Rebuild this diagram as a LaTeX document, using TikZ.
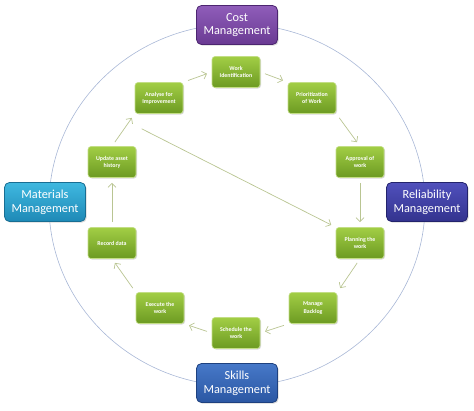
\documentclass[tikz,border=0pt]{standalone}
\usepackage{fontspec}
\setmainfont{Carlito}
\usepackage{xcolor}
\usepackage{tikz}
\usetikzlibrary{arrows.meta,positioning,calc,shadows}

\definecolor{costtop}{HTML}{8F5DBA}
\definecolor{costbot}{HTML}{6A3A92}
\definecolor{costedge}{HTML}{4C2570}
\definecolor{mattop}{HTML}{3FB8E0}
\definecolor{matbot}{HTML}{1E89B6}
\definecolor{matedge}{HTML}{186E93}
\definecolor{reltop}{HTML}{5050BC}
\definecolor{relbot}{HTML}{33338E}
\definecolor{reledge}{HTML}{23236C}
\definecolor{skltop}{HTML}{4678C8}
\definecolor{sklbot}{HTML}{2B57A3}
\definecolor{skledge}{HTML}{1E417F}
\definecolor{tasktop}{HTML}{A2CE45}
\definecolor{taskbot}{HTML}{6C9A22}
\definecolor{taskedge}{HTML}{C3DE86}
\definecolor{flowgrey}{HTML}{B9C592}
\definecolor{ringblue}{HTML}{A8B7D6}

\tikzset{
  mgmt/.style={rounded corners=5pt, minimum width=81pt, minimum height=39pt,
    inner sep=2pt, align=center, text=white, line width=0.8pt,
    font=\fontsize{12.3}{13.8}\selectfont,
    drop shadow={opacity=0.3, shadow xshift=1.2pt, shadow yshift=-1.2pt}},
  task/.style={rounded corners=3pt, minimum width=48pt, minimum height=31pt,
    inner sep=1pt, align=center, text=white, draw=taskedge, line width=0.6pt,
    top color=tasktop, bottom color=taskbot,
    font=\fontsize{5.9}{7.2}\selectfont\bfseries,
    drop shadow={opacity=0.3, shadow xshift=1pt, shadow yshift=-1pt}},
  flow/.style={->, draw=flowgrey, line width=0.7pt, shorten >=5pt, shorten <=5pt}
}

\begin{document}
\begin{tikzpicture}[x=1pt, y=-1pt, >={Straight Barb[length=4pt,width=8pt]}]
    \useasboundingbox (0,0) rectangle (474,410);

    % outer ring
    \draw[ringblue, line width=0.6pt] (237,205) ellipse [x radius=188, y radius=181];

    % management areas
    \node[mgmt, top color=costtop, bottom color=costbot, draw=costedge] (cost) at (237,25) {Cost\\Management};
    \node[mgmt, top color=mattop, bottom color=matbot, draw=matedge] (mat) at (45,202) {Materials\\Management};
    \node[mgmt, top color=reltop, bottom color=relbot, draw=reledge] (rel) at (427,202) {Reliability\\Management};
    \node[mgmt, top color=skltop, bottom color=sklbot, draw=skledge] (skl) at (237,383) {Skills\\Management};

    % work cycle
    \node[task] (workid) at (236,72) {Work\\Identification};
    \node[task] (prio) at (312,98) {Prioritization\\of Work};
    \node[task] (appr) at (360,162) {Approval of\\work};
    \node[task] (plan) at (360,243) {Planning the\\work};
    \node[task] (manage) at (313,308) {Manage\\Backlog};
    \node[task] (sched) at (236,333) {Schedule the\\work};
    \node[task] (exec) at (160,308) {Execute the\\work};
    \node[task] (rec) at (112,243) {Record data};
    \node[task] (upd) at (112,162) {Update asset\\history};
    \node[task] (ana) at (159,98) {Analyse for\\Improvement};

    \draw[flow] (ana.north east) -- (workid.west);
    \draw[flow] (workid.east) -- (prio.north west);
    \draw[flow] (prio.south east) -- (appr.north);
    \draw[flow] (appr.south) -- (plan.north);
    \draw[flow] (plan.south) -- (manage.north east);
    \draw[flow] (manage.south west) -- (sched.east);
    \draw[flow] (sched.west) -- (exec.south east);
    \draw[flow] (exec.north west) -- (rec.south);
    \draw[flow] (rec.north) -- (upd.south);
    \draw[flow] (upd.north) -- (ana.south west);

    % shortcut back to planning
    \coordinate (loopstart) at ($(ana.south west)+(7,15)$);
    \draw[flow, shorten <=0pt] (loopstart) -- (plan.north west);
\end{tikzpicture}
\end{document}
